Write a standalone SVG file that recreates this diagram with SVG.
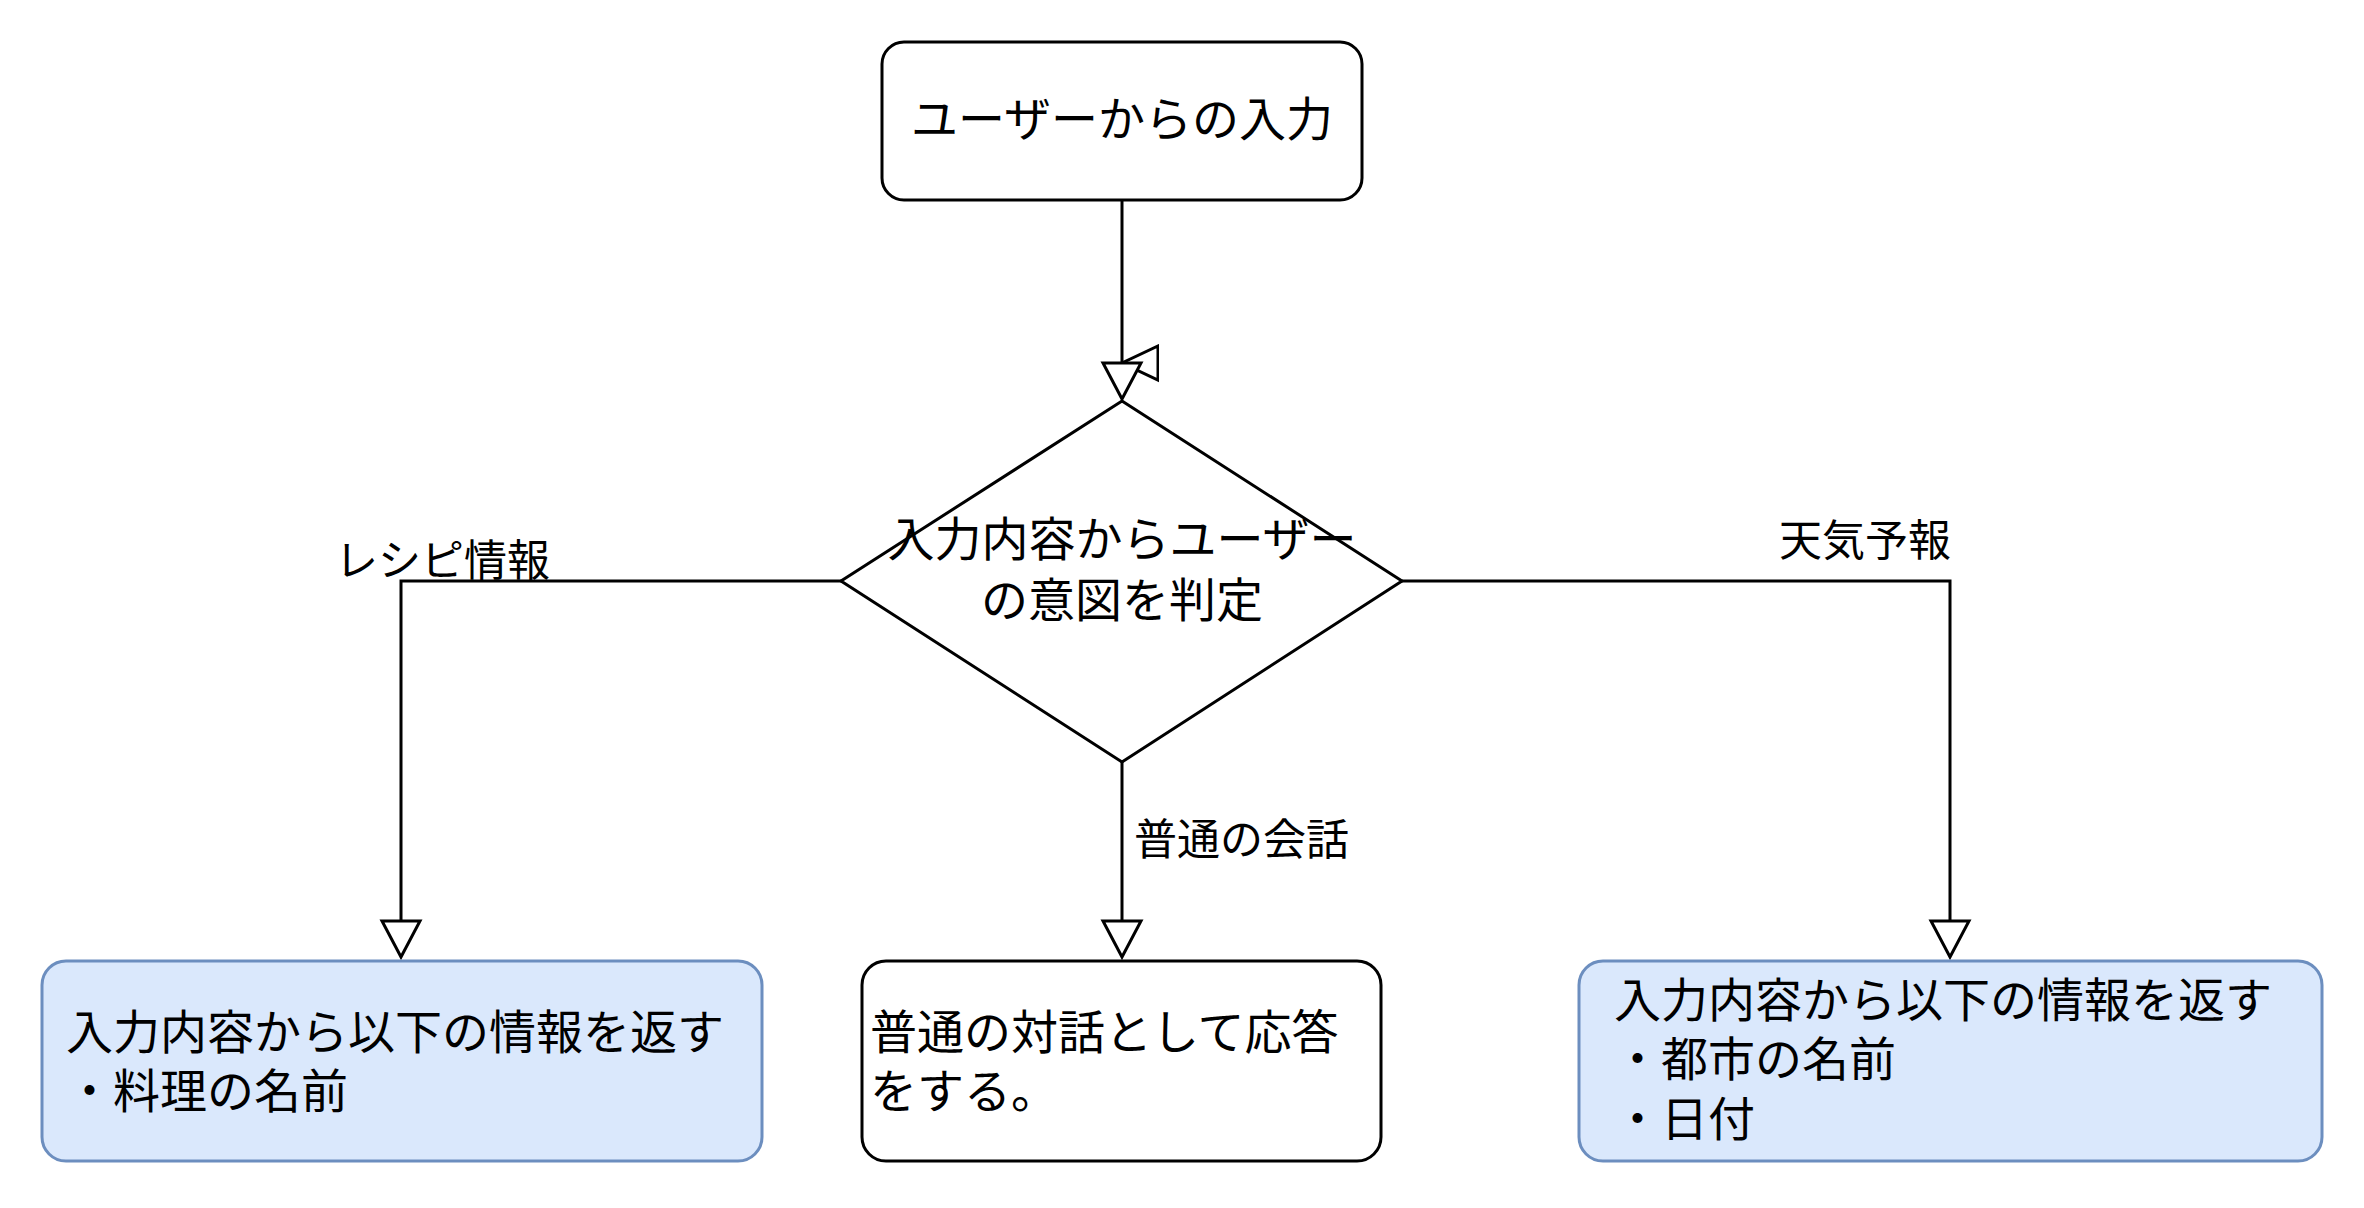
<svg xmlns="http://www.w3.org/2000/svg" width="2364" height="1208" viewBox="0 0 2364 1208">
<style>
text{font-family:"Liberation Sans","Noto Sans CJK JP",sans-serif;fill:#000}
.n{font-size:47px}
.l{font-size:43px}
.box{fill:#fff;stroke:#000;stroke-width:3}
.blue{fill:#dae8fc;stroke:#6c8ebf;stroke-width:3}
.c{fill:none;stroke:#000;stroke-width:3}
</style>
<defs>
<marker id="a" markerWidth="40" markerHeight="40" refX="19" refY="37" markerUnits="userSpaceOnUse" orient="auto-start-reverse" viewBox="0 0 40 40">
<path d="M2,1 L36,1 L19,37 Z" fill="#fff" stroke="#000" stroke-width="3"/>
</marker>
</defs>
<rect width="2364" height="1208" fill="#fff"/>
<g id="connectors">
<path class="c" d="M1122,200 V363" marker-end="url(#a)" transform=""/>
<path class="c" d="M841,581 H401 V921"/>
<path class="c" d="M1402,581 H1950 V921"/>
<path class="c" d="M1122,762 V921"/>
<path d="M1103,363 H1141 L1122,399 Z" fill="#fff" stroke="#000" stroke-width="3"/>
<path d="M382,921 H420 L401,957 Z" fill="#fff" stroke="#000" stroke-width="3"/>
<path d="M1931,921 H1969 L1950,957 Z" fill="#fff" stroke="#000" stroke-width="3"/>
<path d="M1103,921 H1141 L1122,957 Z" fill="#fff" stroke="#000" stroke-width="3"/>
<text class="l" x="335" y="576">レシピ情報</text>
<text class="l" x="1779" y="556">天気予報</text>
<text class="l" x="1134" y="855">普通の会話</text>
</g>
<g id="start">
<rect class="box" x="882" y="42" width="480" height="158" rx="22"/>
<text class="n" x="1122" y="136" text-anchor="middle">ユーザーからの入力</text>
</g>
<g id="decision">
<path class="box" d="M1122,401 L1402,581 L1122,762 L841,581 Z"/>
<text class="n" x="1122" y="556" text-anchor="middle">入力内容からユーザー</text>
<text class="n" x="1122" y="617" text-anchor="middle">の意図を判定</text>
</g>
<g id="recipe">
<rect class="blue" x="42" y="961" width="720" height="200" rx="24"/>
<text class="n" x="66" y="1049">入力内容から以下の情報を返す</text>
<text class="n" x="66" y="1108">・料理の名前</text>
</g>
<g id="chat">
<rect class="box" x="862" y="961" width="519" height="200" rx="24"/>
<text class="n" x="870" y="1049">普通の対話として応答</text>
<text class="n" x="870" y="1108">をする。</text>
</g>
<g id="weather">
<rect class="blue" x="1579" y="961" width="743" height="200" rx="24"/>
<text class="n" x="1614" y="1017">入力内容から以下の情報を返す</text>
<text class="n" x="1614" y="1076">・都市の名前</text>
<text class="n" x="1614" y="1136">・日付</text>
</g>
</svg>
